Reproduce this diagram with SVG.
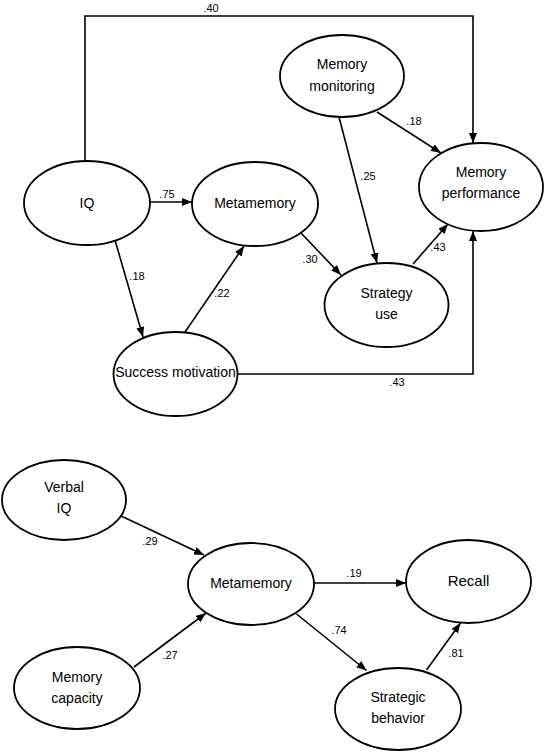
<svg xmlns="http://www.w3.org/2000/svg" width="545" height="752" viewBox="0 0 545 752">
<defs>
<marker id="ah" markerUnits="userSpaceOnUse" markerWidth="10" markerHeight="8" viewBox="0 0 10 8" refX="10" refY="4" orient="auto">
<path d="M0,0 L10,4 L0,8 Z" fill="#000"/>
</marker>
<style>
.n ellipse{fill:#fff;stroke:#000;stroke-width:1.8}
.n text{font-family:"Liberation Sans",Arial,sans-serif;font-size:14px;text-anchor:middle;fill:#000}
.c path{fill:none;stroke:#000;stroke-width:1.6;marker-end:url(#ah)}
.c text{font-family:"Liberation Sans",Arial,sans-serif;font-size:11px;text-anchor:middle;fill:#000}
</style>
</defs>
<rect width="545" height="752" fill="#fff"/>
<g id="connectors" class="c">
<path d="M85,162 V16 H473 V143"/>
<text x="211" y="12">.40</text>
<path d="M149.5,202 H192"/>
<text x="167" y="198">.75</text>
<path d="M377,112 L441,153"/>
<text x="414" y="125">.18</text>
<path d="M339,117 L377,263"/>
<text x="368" y="180">.25</text>
<path d="M115,240 L143,337"/>
<text x="137" y="280">.18</text>
<path d="M185,332 L244,246"/>
<text x="222" y="297">.22</text>
<path d="M301,233 L341,275"/>
<text x="310" y="263">.30</text>
<path d="M413,264 L448,224"/>
<text x="438" y="251">.43</text>
<path d="M238,374 H473 V231"/>
<text x="397" y="386">.43</text>
<path d="M119,515 L204,555"/>
<text x="150" y="545">.29</text>
<path d="M134,667 L206,613"/>
<text x="170" y="659">.27</text>
<path d="M313.5,583 H406"/>
<text x="354" y="577">.19</text>
<path d="M296.5,614 L366.5,670.5"/>
<text x="339" y="634">.74</text>
<path d="M426.5,670 L460.5,623"/>
<text x="456" y="657">.81</text>
</g>
<g id="iq" class="n"><ellipse cx="87" cy="203" rx="63" ry="42"/><text x="87" y="208">IQ</text></g>
<g id="metamemory" class="n"><ellipse cx="255" cy="204" rx="63" ry="42"/><text x="255" y="208">Metamemory</text></g>
<g id="memory-monitoring" class="n"><ellipse cx="342" cy="76" rx="62" ry="41"/><text x="342" y="69">Memory</text><text x="342" y="91">monitoring</text></g>
<g id="memory-performance" class="n"><ellipse cx="481" cy="187" rx="62" ry="44"/><text x="481" y="177">Memory</text><text x="481" y="198">performance</text></g>
<g id="strategy-use" class="n"><ellipse cx="386.5" cy="305" rx="62" ry="42"/><text x="386.5" y="298">Strategy</text><text x="386.5" y="319">use</text></g>
<g id="success-motivation" class="n"><ellipse cx="175.5" cy="374" rx="62" ry="42"/><text x="175.5" y="377">Success motivation</text></g>
<g id="verbal-iq" class="n"><ellipse cx="64" cy="500" rx="62" ry="40"/><text x="64" y="492">Verbal</text><text x="64" y="513">IQ</text></g>
<g id="metamemory-2" class="n"><ellipse cx="251" cy="584" rx="63" ry="41"/><text x="251" y="588">Metamemory</text></g>
<g id="recall" class="n"><ellipse cx="468.5" cy="581.5" rx="62.5" ry="41.5"/><text x="468.5" y="586" style="font-size:15px">Recall</text></g>
<g id="memory-capacity" class="n"><ellipse cx="77" cy="688" rx="63" ry="41"/><text x="77" y="682">Memory</text><text x="77" y="703">capacity</text></g>
<g id="strategic-behavior" class="n"><ellipse cx="398" cy="709" rx="63" ry="41"/><text x="398" y="702">Strategic</text><text x="398" y="723">behavior</text></g>
</svg>
